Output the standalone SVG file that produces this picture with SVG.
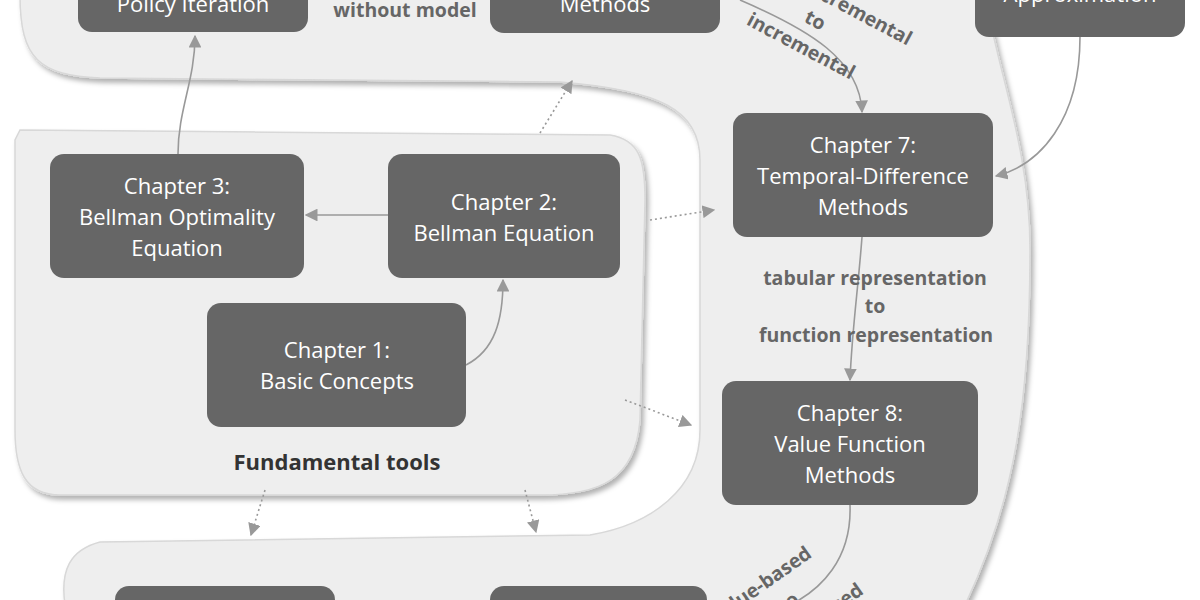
<svg xmlns="http://www.w3.org/2000/svg" width="1200" height="600" viewBox="0 0 1200 600">
<style>
.blob{fill:#eeeeee;stroke:#d8d8d8;stroke-width:1.5}
.box{fill:#666666}
.bt{fill:#ffffff;font-family:"Open Sans","DejaVu Sans",sans-serif;font-size:22px;text-anchor:middle}
.lb{fill:#666666;font-family:"Open Sans","DejaVu Sans",sans-serif;font-size:19.5px;font-weight:bold;text-anchor:middle}
.e{fill:none;stroke:#999999;stroke-width:1.6}
.d{fill:none;stroke:#999999;stroke-width:1.6;stroke-dasharray:2 3}
</style>
<defs>
<filter id="sh" x="-5%" y="-5%" width="110%" height="115%"><feDropShadow dx="3" dy="4" stdDeviation="2.5" flood-color="#000" flood-opacity="0.3"/></filter>
<marker id="a" viewBox="0 0 10 10" refX="9" refY="5" markerWidth="8" markerHeight="8" orient="auto-start-reverse"><path d="M0 0 L10 5 L0 10 z" fill="#999999"/></marker>
</defs>
<g id="regions" filter="url(#sh)">
<path class="blob" d="M 20 -5 H 985 C 1000 80 1030 150 1030 250 C 1030 400 1015 500 965 605 H 65 C 60 570 70 550 100 542 L 590 535 C 650 525 700 490 700 430 L 700 160 C 700 110 660 90 560 82 L 100 78 C 40 75 20 60 20 -5 Z"/>
<path class="blob" d="M 20 130 L 610 135 C 640 140 645 160 645 200 L 640 420 C 635 480 600 495 540 495 L 60 495 C 25 495 15 470 15 430 L 15 140 Z"/>
</g>
<g id="connectors">
<path class="e" d="M178 154 C 178 110 195 80 195 36" marker-end="url(#a)"/>
<path class="e" d="M388 215 L306 215" marker-end="url(#a)"/>
<path class="e" d="M466 365 C 495 350 503 320 503 280" marker-end="url(#a)"/>
<path class="e" d="M862 237 C 858 290 852 330 850 380" marker-end="url(#a)"/>
<path class="e" d="M740 0 C 810 30 860 60 862 112" marker-end="url(#a)"/>
<path class="e" d="M1080 37 C 1080 120 1040 165 996 176" marker-end="url(#a)"/>
<path class="e" d="M850 505 C 852 560 820 590 790 605"/>
<path class="d" d="M540 133 L572 81" marker-end="url(#a)"/>
<path class="d" d="M650 220 L714 210" marker-end="url(#a)"/>
<path class="d" d="M625 400 L691 425" marker-end="url(#a)"/>
<path class="d" d="M265 490 L251 535" marker-end="url(#a)"/>
<path class="d" d="M525 490 L536 532" marker-end="url(#a)"/>
</g>
<g id="ch4"><rect class="box" x="78" y="-30" width="230" height="62" rx="14"/><text class="bt" x="193" y="12">Policy Iteration</text></g>
<g id="ch5"><rect class="box" x="490" y="-30" width="230" height="63" rx="14"/><text class="bt" x="605" y="12">Methods</text></g>
<g id="ch6"><rect class="box" x="975" y="-30" width="210" height="67" rx="14"/><text class="bt" x="1080" y="2">Approximation</text></g>
<g id="ch7"><rect class="box" x="733" y="113" width="260" height="124" rx="14"/><text class="bt" x="863" y="153">Chapter 7:</text><text class="bt" x="863" y="184">Temporal-Difference</text><text class="bt" x="863" y="215">Methods</text></g>
<g id="ch3"><rect class="box" x="50" y="154" width="254" height="124" rx="14"/><text class="bt" x="177" y="194">Chapter 3:</text><text class="bt" x="177" y="225">Bellman Optimality</text><text class="bt" x="177" y="256">Equation</text></g>
<g id="ch2"><rect class="box" x="388" y="154" width="232" height="124" rx="14"/><text class="bt" x="504" y="210">Chapter 2:</text><text class="bt" x="504" y="241">Bellman Equation</text></g>
<g id="ch1"><rect class="box" x="207" y="303" width="259" height="124" rx="14"/><text class="bt" x="337" y="358">Chapter 1:</text><text class="bt" x="337" y="389">Basic Concepts</text></g>
<g id="ch8"><rect class="box" x="722" y="381" width="256" height="124" rx="14"/><text class="bt" x="850" y="421">Chapter 8:</text><text class="bt" x="850" y="452">Value Function</text><text class="bt" x="850" y="483">Methods</text></g>
<g id="ch9"><rect class="box" x="115" y="586" width="220" height="60" rx="14"/></g>
<g id="ch10"><rect class="box" x="490" y="586" width="217" height="60" rx="14"/></g>
<g id="labels">
<text class="lb" x="405" y="17">without model</text>
<text class="lb" x="875" y="285">tabular representation</text>
<text class="lb" x="875" y="313">to</text>
<text class="lb" x="876" y="342">function representation</text>
<text class="lb" x="855" y="18" transform="rotate(28 855 18)">incremental</text>
<text class="lb" x="812" y="26" transform="rotate(28 812 26)">to</text>
<text class="lb" x="798" y="52" transform="rotate(28 798 52)">incremental</text>
<text class="lb" x="765" y="590" transform="rotate(-35 765 590)">value-based</text>
<text class="lb" x="792" y="608" transform="rotate(-35 792 608)">to</text>
<text class="lb" x="815" y="628" transform="rotate(-35 815 628)">policy-based</text>
<text x="337" y="470" style="fill:#333;font-family:'Open Sans','DejaVu Sans',sans-serif;font-size:22px;font-weight:bold;text-anchor:middle">Fundamental tools</text>
</g>
</svg>
